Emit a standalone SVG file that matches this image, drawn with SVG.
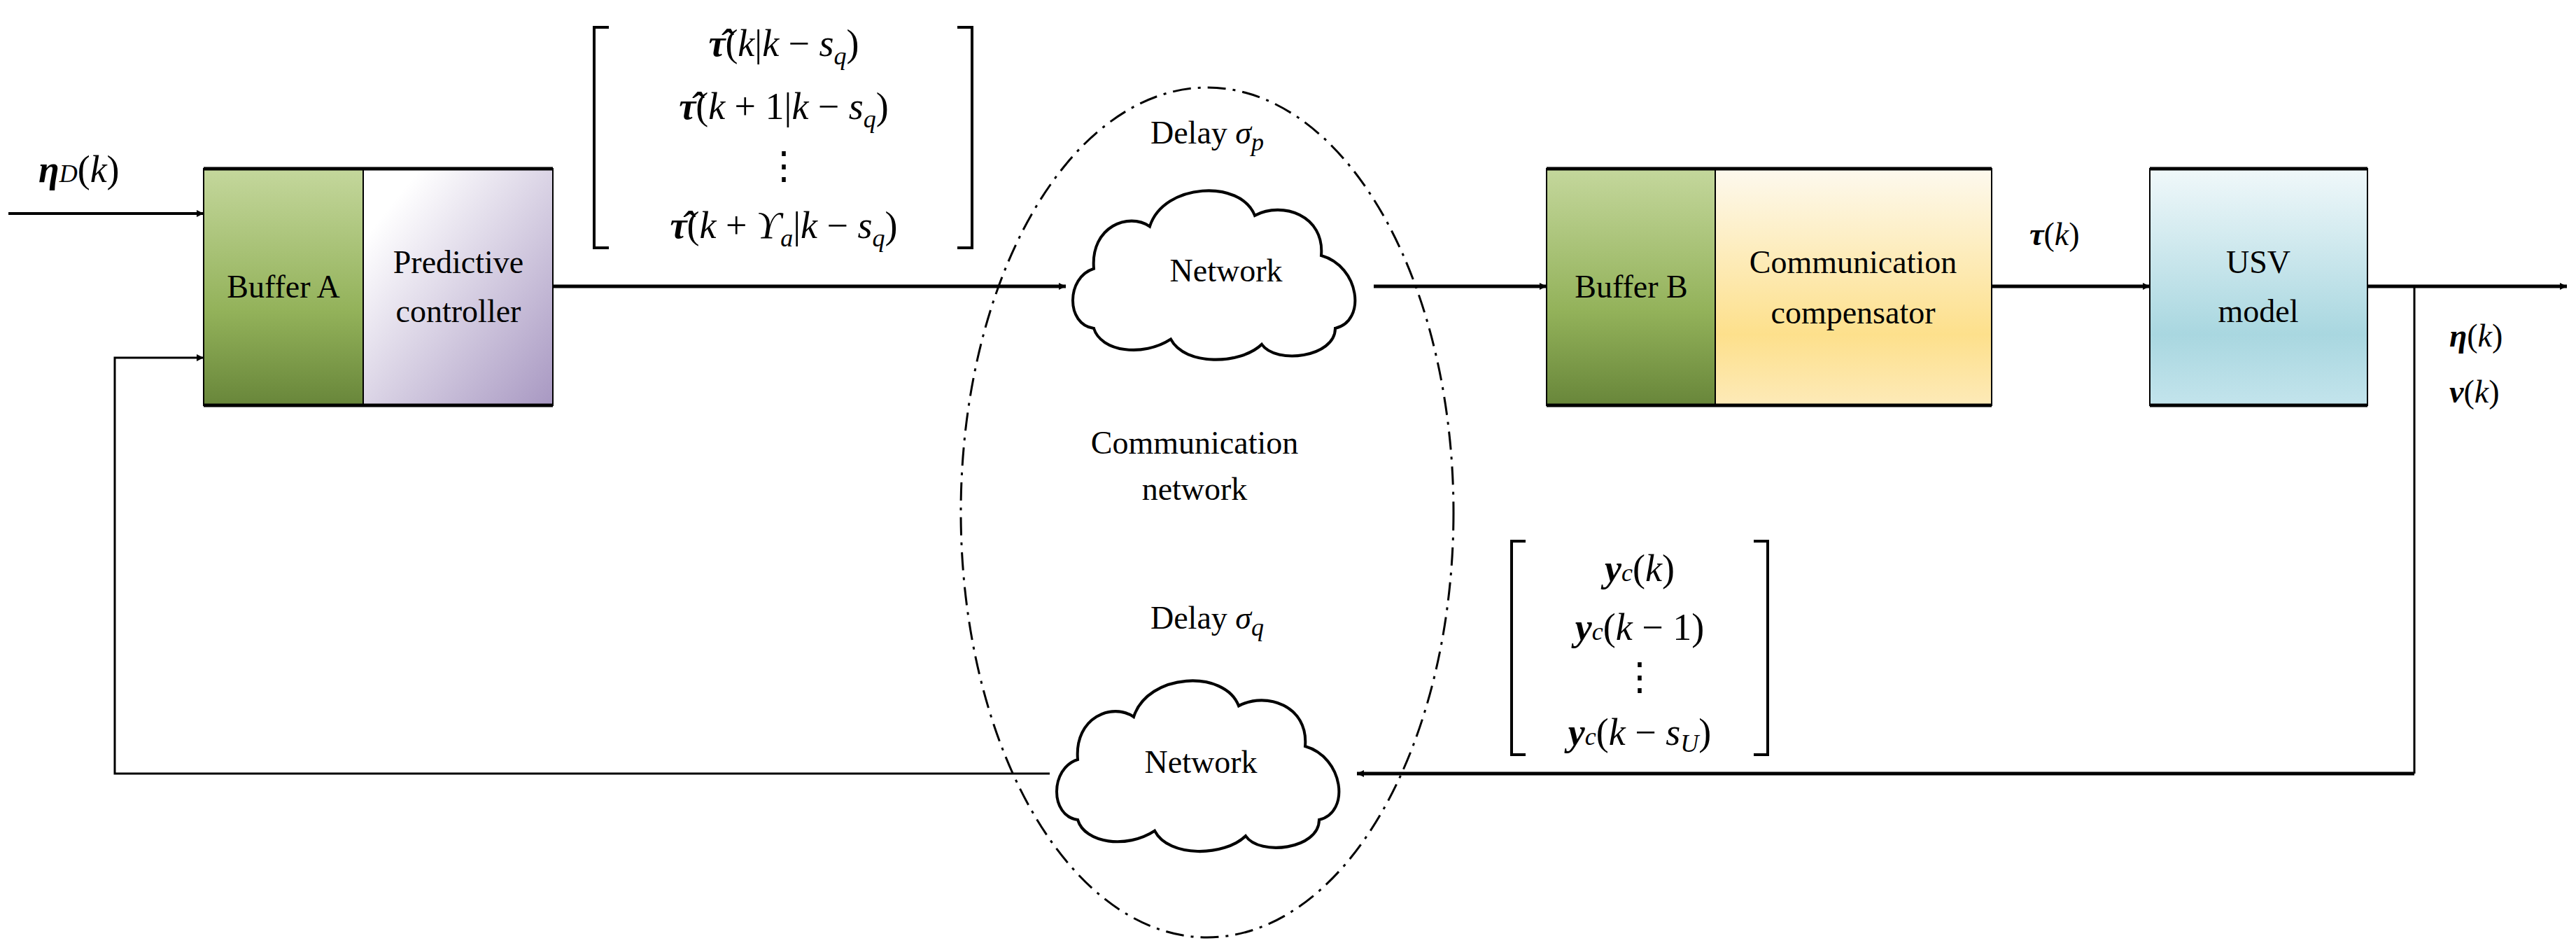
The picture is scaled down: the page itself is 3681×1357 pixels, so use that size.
<svg xmlns="http://www.w3.org/2000/svg" width="3681" height="1357" viewBox="0 0 3681 1357">
<defs>
<linearGradient id="gGreen" x1="0" y1="0" x2="0" y2="1"><stop offset="0" stop-color="#c4d79c"/><stop offset="0.6" stop-color="#93b25a"/><stop offset="1" stop-color="#68863a"/></linearGradient>
<linearGradient id="gPurple" x1="0" y1="0" x2="1" y2="1"><stop offset="0.15" stop-color="#ffffff"/><stop offset="1" stop-color="#a898c2"/></linearGradient>
<linearGradient id="gYellow" x1="0" y1="0" x2="0" y2="1"><stop offset="0" stop-color="#fdf9ee"/><stop offset="0.7" stop-color="#fde08c"/><stop offset="1" stop-color="#fdeab8"/></linearGradient>
<linearGradient id="gBlue" x1="0" y1="0" x2="0" y2="1"><stop offset="0" stop-color="#f0f8fa"/><stop offset="0.7" stop-color="#a9d7e0"/><stop offset="1" stop-color="#c3e4ec"/></linearGradient>
<marker id="arr" markerWidth="10" markerHeight="10" refX="10" refY="5" orient="auto" markerUnits="userSpaceOnUse" viewBox="0 0 10 10"><path d="M0,0 L10,5 L0,10 Z" fill="#000"/></marker>
<path id="cloud" d="M40,200 C0,195 0,130 40,118 C35,60 90,40 120,60 C140,0 250,-5 270,45 C310,25 370,45 365,100 C420,115 430,190 385,200 C385,240 300,250 280,222 C250,250 170,252 150,215 C110,240 50,232 40,200 Z"/>
</defs>
<style>
.t{font-family:"Liberation Serif","Times New Roman",serif;font-size:46px;fill:#000}
.m{font-family:"Liberation Serif","DejaVu Serif",serif;font-size:54px;font-style:italic;fill:#000}
.b{font-weight:bold}
.n{font-style:normal}
.s{font-size:36px}
.ln{stroke:#000;stroke-width:5;fill:none}
.thin{stroke:#000;stroke-width:3;fill:none}
.br{stroke:#000;stroke-width:4;fill:none}
.cl{fill:#fff;stroke:#000;stroke-width:4}
</style>
<g id="ellipse"><ellipse cx="1725" cy="732" rx="352" ry="607" fill="none" stroke="#000" stroke-width="3" stroke-dasharray="26 10 4 10"/></g>
<g id="connectors">
<line class="ln" x1="12" y1="305" x2="291" y2="305" marker-end="url(#arr)" style="stroke-width:4"/>
<polyline class="thin" points="1500,1105 164,1105 164,511 291,511" marker-end="url(#arr)"/>
<line class="ln" x1="790" y1="409" x2="1523" y2="409" marker-end="url(#arr)"/>
<line class="ln" x1="1963" y1="409" x2="2210" y2="409" marker-end="url(#arr)"/>
<line class="ln" x1="2846" y1="409" x2="3072" y2="409" marker-end="url(#arr)"/>
<line class="ln" x1="3383" y1="409" x2="3668" y2="409" marker-end="url(#arr)"/>
<polyline class="thin" points="3450,409 3450,1105" />
<line class="ln" x1="3450" y1="1105" x2="1939" y2="1105" marker-end="url(#arr)"/>
</g>
<g id="bufferA">
<rect x="291" y="241" width="228" height="338" fill="url(#gGreen)" stroke="#000" stroke-width="2"/>
<text class="t" x="405" y="425" text-anchor="middle">Buffer A</text>
</g>
<g id="predictive">
<rect x="519" y="241" width="271" height="338" fill="url(#gPurple)" stroke="#000" stroke-width="2"/>
<text class="t" x="655" y="390" text-anchor="middle">Predictive</text>
<text class="t" x="655" y="460" text-anchor="middle">controller</text>
<line x1="291" y1="241" x2="790" y2="241" class="ln"/><line x1="291" y1="579" x2="790" y2="579" class="ln"/>
</g>
<g id="bufferB">
<rect x="2210" y="241" width="241" height="338" fill="url(#gGreen)" stroke="#000" stroke-width="2"/>
<text class="t" x="2331" y="425" text-anchor="middle">Buffer B</text>
</g>
<g id="compensator">
<rect x="2451" y="241" width="395" height="338" fill="url(#gYellow)" stroke="#000" stroke-width="2"/>
<text class="t" x="2648" y="390" text-anchor="middle">Communication</text>
<text class="t" x="2648" y="462" text-anchor="middle">compensator</text>
<line x1="2210" y1="241" x2="2846" y2="241" class="ln"/><line x1="2210" y1="579" x2="2846" y2="579" class="ln"/>
</g>
<g id="usv">
<rect x="3072" y="241" width="311" height="338" fill="url(#gBlue)" stroke="#000" stroke-width="2"/>
<text class="t" x="3227" y="390" text-anchor="middle">USV</text>
<text class="t" x="3227" y="460" text-anchor="middle">model</text>
<line x1="3072" y1="241" x2="3383" y2="241" class="ln"/><line x1="3072" y1="579" x2="3383" y2="579" class="ln"/>
</g>
<g id="cloud1">
<use href="#cloud" class="cl" transform="translate(1523,261) scale(1,1.04)"/>
<text class="t" x="1752" y="402" text-anchor="middle">Network</text>
</g>
<g id="cloud2">
<use href="#cloud" class="cl" transform="translate(1500,961) scale(1,1.05)"/>
<text class="t" x="1716" y="1104" text-anchor="middle">Network</text>
</g>
<g id="labels">
<text class="t" x="1725" y="205" text-anchor="middle">Delay <tspan font-style="italic">σ<tspan class="s" dy="10">p</tspan></tspan></text>
<text class="t" x="1725" y="898" text-anchor="middle">Delay <tspan font-style="italic">σ<tspan class="s" dy="10">q</tspan></tspan></text>
<text class="t" x="1707" y="648" text-anchor="middle">Communication</text>
<text class="t" x="1707" y="714" text-anchor="middle">network</text>
<text class="m" x="55" y="260"><tspan class="b">η</tspan><tspan class="s">D</tspan><tspan class="n">(</tspan>k<tspan class="n">)</tspan></text>
<text class="m" x="2900" y="350" style="font-size:46px"><tspan class="b">τ</tspan><tspan class="n">(</tspan>k<tspan class="n">)</tspan></text>
<text class="m" x="3500" y="495" style="font-size:46px"><tspan class="b">η</tspan><tspan class="n">(</tspan>k<tspan class="n">)</tspan></text>
<text class="m" x="3500" y="575" style="font-size:46px"><tspan class="b">v</tspan><tspan class="n">(</tspan>k<tspan class="n">)</tspan></text>
</g>
<g id="matrix1">
<polyline class="br" points="870,39 849,39 849,354 870,354"/>
<polyline class="br" points="1368,39 1389,39 1389,354 1368,354"/>
<text class="m" x="1120" y="80" text-anchor="middle"><tspan class="b">τ̂</tspan><tspan class="n">(</tspan>k<tspan class="n">|</tspan>k <tspan class="n">−</tspan> s<tspan class="s" dy="12">q</tspan><tspan class="n" dy="-12">)</tspan></text>
<text class="m" x="1120" y="170" text-anchor="middle"><tspan class="b">τ̂</tspan><tspan class="n">(</tspan>k <tspan class="n">+ 1|</tspan>k <tspan class="n">−</tspan> s<tspan class="s" dy="12">q</tspan><tspan class="n" dy="-12">)</tspan></text>
<text class="m n" x="1120" y="255" text-anchor="middle">⋮</text>
<text class="m" x="1120" y="340" text-anchor="middle"><tspan class="b">τ̂</tspan><tspan class="n">(</tspan>k <tspan class="n">+ </tspan>ϒ<tspan class="s" dy="12">a</tspan><tspan class="n" dy="-12">|</tspan>k <tspan class="n">−</tspan> s<tspan class="s" dy="12">q</tspan><tspan class="n" dy="-12">)</tspan></text>
</g>
<g id="matrix2">
<polyline class="br" points="2180,773 2160,773 2160,1078 2180,1078"/>
<polyline class="br" points="2506,773 2526,773 2526,1078 2506,1078"/>
<text class="m" x="2343" y="830" text-anchor="middle"><tspan class="b">y</tspan><tspan class="s">c</tspan><tspan class="n">(</tspan>k<tspan class="n">)</tspan></text>
<text class="m" x="2343" y="914" text-anchor="middle"><tspan class="b">y</tspan><tspan class="s">c</tspan><tspan class="n">(</tspan>k <tspan class="n">− 1)</tspan></text>
<text class="m n" x="2343" y="985" text-anchor="middle">⋮</text>
<text class="m" x="2343" y="1064" text-anchor="middle"><tspan class="b">y</tspan><tspan class="s">c</tspan><tspan class="n">(</tspan>k <tspan class="n">−</tspan> s<tspan class="s" dy="10">U</tspan><tspan class="n" dy="-10">)</tspan></text>
</g>
</svg>
